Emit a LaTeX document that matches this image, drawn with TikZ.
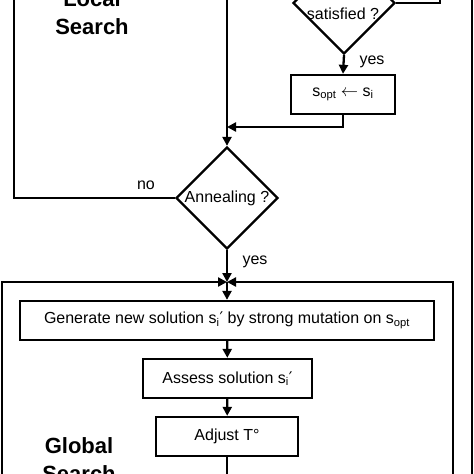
\documentclass[tikz,border=0pt]{standalone}
\usepackage{fontspec}
\setmainfont{Liberation Sans}
\newfontfamily\dejavu{DejaVu Sans}
\usetikzlibrary{shapes.geometric,arrows.meta}
\tikzset{
  box/.style={draw,line width=2.3pt,minimum height=39pt,inner sep=0pt,font=\fontsize{16}{19}\selectfont},
  test/.style={draw,diamond,line width=2.3pt,minimum width=102pt,minimum height=102pt,inner sep=0pt,font=\fontsize{16}{19}\selectfont},
  flow/.style={line width=2.3pt,-{Triangle[length=9pt,width=9pt]}},
  link/.style={line width=2.3pt},
  lbl/.style={font=\fontsize{16}{19}\selectfont},
  region/.style={font=\bfseries\fontsize{22}{28}\selectfont,align=center}
}
\begin{document}
\begin{tikzpicture}[x=1pt,y=-1pt]
\useasboundingbox (0,0) rectangle (474,474);
\clip (0,0) rectangle (474,474);
% local search part
\node[region] (local) at (92,13) {Local\\Search};
\node[test] (sat) at (344,3) {};
\node[lbl] (sattext) at (343,14) {satisfied ?};
\node[box,minimum width=104pt] (update) at (343,94.5) {s\textsubscript{opt} $\leftarrow$ s\textsubscript{i}};
\node[test] (anneal) at (227,198) {Annealing ?};
\node[lbl] (no) at (146,185) {no};
\node[lbl] (yes1) at (372,62) {yes};
\node[lbl] (yes2) at (255,262) {yes};
\coordinate (ltop) at (14,-5);
\coordinate (lcorner) at (14,198);
\coordinate (mtop) at (227,-5);
\coordinate (merge) at (227,127);
\coordinate (sattail) at (440,-5);
\coordinate (rtop) at (472,-5);
\coordinate (rbot) at (472,480);
\draw[link] (anneal.west) -- (lcorner) -- (ltop);
\draw[flow] (mtop) -- (anneal.north);
\draw[flow] (sat.south) -- (update.north);
\draw[flow] (update.south) |- (merge);
\draw[link] (sat.east) -| (sattail);
\draw[link] (rtop) -- (rbot);
% global search part
\node[region] (global) at (79,460) {Global\\Search};
\node[box,minimum width=414pt] (generate) at (227,320.5) {Generate new solution s\textsubscript{i}{\dejavu ′} by strong mutation on s\textsubscript{opt}};
\node[box,minimum width=169pt] (assess) at (227.5,378.5) {Assess solution s\textsubscript{i}{\dejavu ′}};
\node[box,minimum width=142pt] (adjust) at (227,436.5) {Adjust T°};
\coordinate (join) at (227,282);
\coordinate (lloop) at (2,480);
\coordinate (rloop) at (453,480);
\coordinate (gbottom) at (227,480);
\draw[flow] (anneal.south) -- (join);
\draw[flow] (lloop) |- (join);
\draw[flow] (rloop) |- (join);
\draw[flow] (join) -- (generate.north);
\draw[flow] (generate) -- (assess);
\draw[flow] (assess) -- (adjust);
\draw[link] (adjust.south) -- (gbottom);
\end{tikzpicture}
\end{document}
